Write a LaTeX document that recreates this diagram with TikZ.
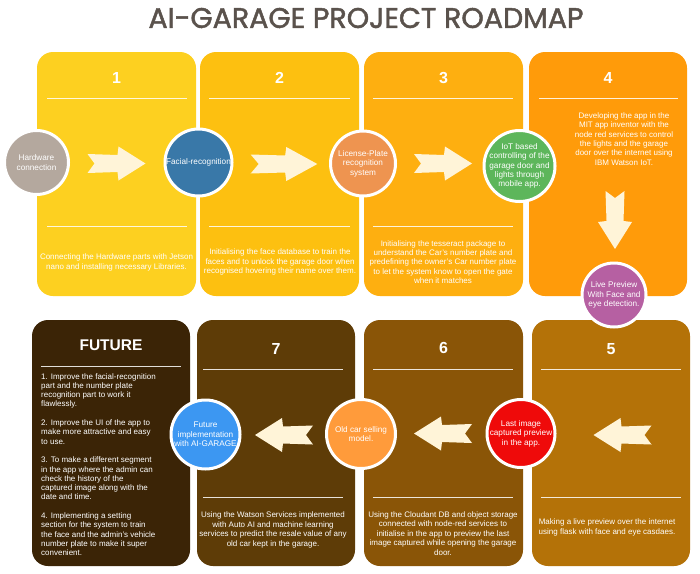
\documentclass[tikz,border=0pt]{standalone}
\usepackage{graphicx}
\usepackage{fontspec}
\setmainfont{Liberation Sans}
\newfontfamily\titlefont[FakeBold=1.6]{Poppins}
\definecolor{cPa}{HTML}{FDD020}
\definecolor{cPb}{HTML}{FDC010}
\definecolor{cPc}{HTML}{FEAF10}
\definecolor{cPd}{HTML}{FF9B0A}
\definecolor{cPe}{HTML}{B47208}
\definecolor{cPf}{HTML}{8A5507}
\definecolor{cPg}{HTML}{5E3C07}
\definecolor{cPF}{HTML}{3B2406}
\definecolor{arrowc}{HTML}{FFF4D8}
\definecolor{cHw}{HTML}{B4A89E}
\definecolor{cFace}{HTML}{3978A8}
\definecolor{cLic}{HTML}{EE9450}
\definecolor{cIot}{HTML}{5DB65B}
\definecolor{cLive}{HTML}{B660A2}
\definecolor{cLast}{HTML}{EF0A0A}
\definecolor{cOld}{HTML}{FF9B3B}
\definecolor{cFut}{HTML}{3C97F2}
\definecolor{titlec}{HTML}{5A524C}
\tikzset{
  panelbox/.style={rounded corners=16pt},
  hline/.style={draw=white, draw opacity=0.85, line width=0.9pt},
  circ/.style={circle, draw=white, line width=3pt, inner sep=0pt},
  ctext/.style={text=white, font=\fontsize{8.2}{9.4}\selectfont, align=center, inner sep=0pt},
  desc/.style={text=white, font=\fontsize{8}{9.4}\selectfont, align=center, inner sep=0pt},
  numtext/.style={text=white, font=\bfseries\fontsize{16}{16}\selectfont, inner sep=0pt},
  blockarrow/.pic={\fill[arrowc] (-29,-9.5) -- (1,-8.5) -- (2,-17) -- (29,0) -- (2,17) -- (1,8.5) -- (-29,9.5) -- (-22,0) -- cycle;}
}
\begin{document}
\begin{tikzpicture}[x=1pt,y=-1pt]
\useasboundingbox (0,0) rectangle (700,573);
\fill[white] (0,0) rectangle (700,573);
% title
\node[font=\titlefont, text=titlec, inner sep=0pt] (title) at (366,18) {\resizebox{435pt}{20pt}{AI-GARAGE PROJECT ROADMAP}};
% panels top row
\fill[panelbox, cPa] (37,52) rectangle (196,296);
\fill[panelbox, cPb] (200,52) rectangle (359,296);
\fill[panelbox, cPc] (364,52) rectangle (523,296);
\fill[panelbox, cPd] (529,52) rectangle (687,296);
% panels bottom row
\fill[panelbox, cPF] (32,320) rectangle (190,566);
\fill[panelbox, cPg] (197,320) rectangle (355,566);
\fill[panelbox, cPf] (364,320) rectangle (523,566);
\fill[panelbox, cPe] (532,320) rectangle (690,566);
% header lines
\draw[hline] (47,98) -- (187,98);
\draw[hline] (47,226) -- (187,226);
\draw[hline] (209,98) -- (350,98);
\draw[hline] (209,226) -- (350,226);
\draw[hline] (373,98) -- (513,98);
\draw[hline] (373,226) -- (513,226);
\draw[hline] (539,98) -- (678,98);
\draw[hline] (41,366) -- (181,366);
\draw[hline] (203,369) -- (343,369);
\draw[hline] (203,497) -- (343,497);
\draw[hline] (373,369) -- (513,369);
\draw[hline] (373,497) -- (513,497);
\draw[hline] (541,369) -- (681,369);
\draw[hline] (541,497) -- (681,497);
% numbers
\node[numtext] (n1) at (116.5,78) {1};
\node[numtext] (n2) at (279.5,78) {2};
\node[numtext] (n3) at (443.5,78) {3};
\node[numtext] (n4) at (608,78) {4};
\node[numtext] (n5) at (611,349) {5};
\node[numtext] (n6) at (443.5,348) {6};
\node[numtext] (n7) at (276,349) {7};
\node[text=white, font=\bfseries\fontsize{15.5}{16}\selectfont, inner sep=0pt] (nF) at (111,345) {FUTURE};
% arrows
\pic (a1) at (116.5,163.5) {blockarrow};
\pic[xscale=1.15] (a2) at (284,164) {blockarrow};
\pic (a3) at (443,163.5) {blockarrow};
\pic[rotate=-90] (a4) at (615,220) {blockarrow};
\pic[rotate=180] (a5) at (622.5,435) {blockarrow};
\pic[rotate=180] (a6) at (443,433.5) {blockarrow};
\pic[rotate=180] (a7) at (284,435) {blockarrow};
% circles
\node[circ, fill=cHw, minimum size=64pt] (hw) at (36.5,162.5) {};
\node[ctext] (hwt) at (hw) {Hardware\\connection};
\node[circ, fill=cFace, minimum size=67pt] (face) at (198.5,162.5) {};
\node[ctext] (facet) at (face) {Facial-recognition};
\node[circ, fill=cLic, minimum size=65pt] (lic) at (363,163.5) {};
\node[ctext] (lict) at (lic) {License-Plate\\recognition\\system};
\node[circ, fill=cIot, minimum size=71pt] (iot) at (519.5,166) {};
\node[ctext] (iott) at (iot) {IoT based\\controlling of the\\garage door and\\lights through\\mobile app.};
\node[circ, fill=cLive, minimum size=64pt] (live) at (614,295) {};
\node[ctext] (livet) at (live) {Live Preview\\With Face and\\eye detection.};
\node[circ, fill=cLast, minimum size=68pt] (last) at (521,433.5) {};
\node[ctext] (lastt) at (last) {Last image\\captured preview\\in the app.};
\node[circ, fill=cOld, minimum size=69pt] (old) at (361,434) {};
\node[ctext] (oldt) at (old) {Old car selling\\model.};
\node[circ, fill=cFut, minimum size=69pt] (fut) at (205.5,434.5) {};
\node[ctext] (futt) at (fut) {Future\\implementation\\with AI-GARAGE};
% descriptions
\node[desc] (d1) at (116.5,262.5) {Connecting the Hardware parts with Jetson\\nano and installing necessary Libraries.};
\node[desc] (d2) at (280,262) {Initialising the face database to train the\\faces and to unlock the garage door when\\recognised hovering their name over them.};
\node[desc] (d3) at (443,262) {Initialising the tesseract package to\\understand the Car's number plate and\\predefining the owner's Car number plate\\to let the system know to open the gate\\when it matches};
\node[desc] (d4) at (624,139) {Developing the app in the\\MIT app inventor with the\\node red services to control\\the lights and the garage\\door over the internet using\\IBM Watson IoT.};
\node[desc] (d5) at (607,527.5) {Making a live preview over the internet\\using flask with face and eye casdaes.};
\node[desc] (d6) at (443,533.5) {Using the Cloudant DB and object storage\\connected with node-red services to\\initialise in the app to preview the last\\image captured while opening the garage\\door.};
\node[desc] (d7) at (273,530) {Using the Watson Services implemented\\with Auto AI and machine learning\\services to predict the resale value of any\\old car kept in the garage.};
\node[desc, align=left, anchor=west, font=\fontsize{8}{9.3}\selectfont] (dF) at (41,464.5) {1. Improve the facial-recognition\\part and the number plate\\recognition part to work it\\flawlessly.\\[9.3pt]2. Improve the UI of the app to\\make more attractive and easy\\to use.\\[9.3pt]3. To make a different segment\\in the app where the admin can\\check the history of the\\captured image along with the\\date and time.\\[9.3pt]4. Implementing a setting\\section for the system to train\\the face and the admin's vehicle\\number plate to make it super\\convenient.};
\end{tikzpicture}
\end{document}
